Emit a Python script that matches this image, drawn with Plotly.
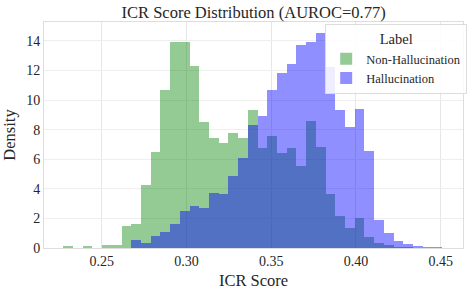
import numpy as np
import plotly.graph_objects as go

# ---- data ----
BIN_START = 0.2273
BIN_WIDTH = 0.005733
N_BINS = 40

non_halluc_density = [
    0.15, 0.0, 0.15, 0.0, 0.22, 0.22, 1.5, 1.6, 4.26, 6.5,
    10.7, 13.95, 13.95, 12.3, 8.5, 7.4, 7.07, 7.8, 7.4, 9.3,
    6.75, 7.6, 6.44, 6.75, 5.56, 8.6, 6.84, 3.63, 2.16, 1.33,
    2.05, 0.77, 0.36, 0.2, 0.1, 0.05, 0.02, 0.0, 0.0, 0.0,
]
halluc_density = [
    0.0, 0.0, 0.0, 0.0, 0.0, 0.0, 0.0, 0.54, 0.32, 0.81,
    1.07, 1.65, 2.5, 2.86, 2.72, 3.7, 3.65, 4.86, 6.1, 8.3,
    8.94, 10.7, 11.85, 12.43, 13.7, 13.9, 14.5, 12.2, 9.3, 8.2,
    9.4, 6.55, 1.9, 1.0, 0.5, 0.3, 0.16, 0.09, 0.04, 0.02,
]
x_ticks = [0.25, 0.30, 0.35, 0.40, 0.45]
x_tick_labels = ["0.25", "0.30", "0.35", "0.40", "0.45"]
y_ticks = [0, 2, 4, 6, 8, 10, 12, 14]
series_names = ["Non-Hallucination", "Hallucination"]
title_text = "ICR Score Distribution (AUROC=0.77)"

# ---- figure ----
edges = BIN_START + BIN_WIDTH * np.arange(N_BINS + 1)
centers = (edges[:-1] + edges[1:]) / 2

FONT = "Liberation Serif"
TXT = "#262626"

fig = go.Figure()
fig.add_trace(go.Bar(
    x=centers, y=non_halluc_density, width=BIN_WIDTH,
    name=series_names[0],
    marker=dict(color="rgba(0,128,0,0.42)", line=dict(width=0)),
))
fig.add_trace(go.Bar(
    x=centers, y=halluc_density, width=BIN_WIDTH,
    name=series_names[1],
    marker=dict(color="rgba(0,0,255,0.44)", line=dict(width=0)),
))

fig.update_layout(
    width=474, height=290,
    margin=dict(l=44, r=11, t=22, b=42, autoexpand=False),
    barmode="overlay", bargap=0,
    paper_bgcolor="white", plot_bgcolor="white",
    font=dict(family=FONT, color=TXT),
    title=dict(text=title_text, x=0.535, xanchor="center", y=0.958, yanchor="middle",
               font=dict(family=FONT, size=16.5, color=TXT)),
    legend=dict(
        x=1.01, xanchor="right", y=0.99, yanchor="top",
        bgcolor="rgba(255,255,255,0.85)", bordercolor="#dcdcdc", borderwidth=1,
        font=dict(family=FONT, size=12.5, color=TXT),
        title=dict(text="Label", side="top center", font=dict(family=FONT, size=14.5, color=TXT)),
        tracegroupgap=0, itemwidth=30,
    ),
    showlegend=True,
)
fig.update_xaxes(
    range=[0.2159, 0.4632], automargin=False,
    tickmode="array", tickvals=x_ticks, ticktext=x_tick_labels,
    tickfont=dict(family=FONT, size=14, color=TXT),
    showgrid=True, gridcolor="#e6e6e6", gridwidth=1,
    showline=True, linecolor="#dddddd", linewidth=1, mirror=True,
    ticks="", zeroline=False,
    title=dict(text="ICR Score", font=dict(family=FONT, size=16.5, color=TXT), standoff=6),
)
fig.update_yaxes(
    range=[0, 15.27], automargin=False,
    tickmode="array", tickvals=y_ticks,
    tickfont=dict(family=FONT, size=14, color=TXT),
    showgrid=True, gridcolor="#eeeeee", gridwidth=1,
    showline=True, linecolor="#dddddd", linewidth=1, mirror=True,
    ticks="", zeroline=False,
    title=dict(text="Density", font=dict(family=FONT, size=16.5, color=TXT), standoff=6),
)

fig.write_html("out.html")
